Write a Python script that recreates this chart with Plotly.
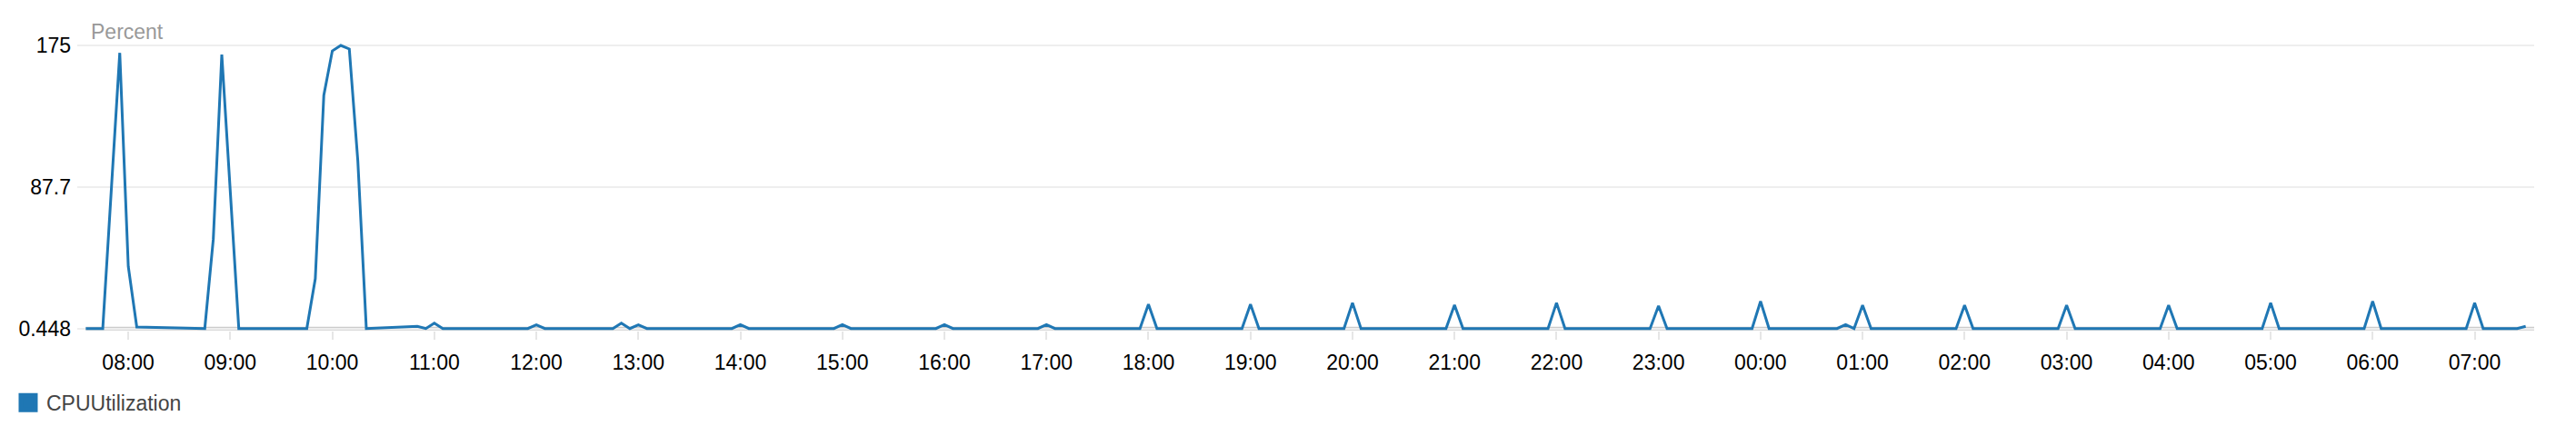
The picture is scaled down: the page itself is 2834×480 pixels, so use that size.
import plotly.graph_objects as go

# CPUUtilization, 5 minute samples (only the points where the line bends)
times = [
    "2018-05-21 07:35", "2018-05-21 07:45", "2018-05-21 07:55", "2018-05-21 08:00", "2018-05-21 08:05",
    "2018-05-21 08:45", "2018-05-21 08:50", "2018-05-21 08:55", "2018-05-21 09:05",
    "2018-05-21 09:45", "2018-05-21 09:50", "2018-05-21 09:55", "2018-05-21 10:00", "2018-05-21 10:05",
    "2018-05-21 10:10", "2018-05-21 10:15", "2018-05-21 10:20",
    "2018-05-21 10:50", "2018-05-21 10:55", "2018-05-21 11:00", "2018-05-21 11:05",
    "2018-05-21 11:55", "2018-05-21 12:00", "2018-05-21 12:05",
    "2018-05-21 12:45", "2018-05-21 12:50", "2018-05-21 12:55", "2018-05-21 13:00", "2018-05-21 13:05",
    "2018-05-21 13:55", "2018-05-21 14:00", "2018-05-21 14:05",
    "2018-05-21 14:55", "2018-05-21 15:00", "2018-05-21 15:05",
    "2018-05-21 15:55", "2018-05-21 16:00", "2018-05-21 16:05",
    "2018-05-21 16:55", "2018-05-21 17:00", "2018-05-21 17:05",
    "2018-05-21 17:55", "2018-05-21 18:00", "2018-05-21 18:05",
    "2018-05-21 18:55", "2018-05-21 19:00", "2018-05-21 19:05",
    "2018-05-21 19:55", "2018-05-21 20:00", "2018-05-21 20:05",
    "2018-05-21 20:55", "2018-05-21 21:00", "2018-05-21 21:05",
    "2018-05-21 21:55", "2018-05-21 22:00", "2018-05-21 22:05",
    "2018-05-21 22:55", "2018-05-21 23:00", "2018-05-21 23:05",
    "2018-05-21 23:55", "2018-05-22 00:00", "2018-05-22 00:05",
    "2018-05-22 00:45", "2018-05-22 00:50", "2018-05-22 00:55", "2018-05-22 01:00", "2018-05-22 01:05",
    "2018-05-22 01:55", "2018-05-22 02:00", "2018-05-22 02:05",
    "2018-05-22 02:55", "2018-05-22 03:00", "2018-05-22 03:05",
    "2018-05-22 03:55", "2018-05-22 04:00", "2018-05-22 04:05",
    "2018-05-22 04:55", "2018-05-22 05:00", "2018-05-22 05:05",
    "2018-05-22 05:55", "2018-05-22 06:00", "2018-05-22 06:05",
    "2018-05-22 06:55", "2018-05-22 07:00", "2018-05-22 07:05",
    "2018-05-22 07:25", "2018-05-22 07:30",
]
cpu = [
    0.448, 0.448, 170.4, 38.8, 1.4,
    0.448, 55.5, 169.4, 0.448,
    0.448, 31.2, 144.2, 171.6, 175.0,
    172.8, 104.0, 0.448,
    1.8, 0.448, 3.8, 0.448,
    0.448, 2.7, 0.448,
    0.448, 3.8, 0.448, 2.7, 0.448,
    0.448, 2.9, 0.448,
    0.448, 2.9, 0.448,
    0.448, 2.9, 0.448,
    0.448, 2.9, 0.448,
    0.448, 15.4, 0.448,
    0.448, 15.4, 0.448,
    0.448, 16.3, 0.448,
    0.448, 15.0, 0.448,
    0.448, 16.3, 0.448,
    0.448, 14.4, 0.448,
    0.448, 17.2, 0.448,
    0.448, 2.9, 0.448, 14.8, 0.448,
    0.448, 14.8, 0.448,
    0.448, 14.8, 0.448,
    0.448, 14.8, 0.448,
    0.448, 16.3, 0.448,
    0.448, 17.2, 0.448,
    0.448, 16.3, 0.448,
    0.448, 1.8,
]

y_ticks = [0.448, 87.7, 175]
y_labels = ["0.448", "87.7", "175"]
x_start = "2018-05-21 07:30"
x_end = "2018-05-22 07:35"

blue = "#1f77b4"
font = "Liberation Sans, Arial, Helvetica, sans-serif"

fig = go.Figure()
fig.add_trace(go.Scatter(
    x=times, y=cpu, mode="lines", name="CPUUtilization",
    line=dict(color=blue, width=3), showlegend=False
))
# legend swatch only
fig.add_trace(go.Scatter(
    x=[None], y=[None], mode="markers", name="CPUUtilization",
    marker=dict(symbol="square", size=16, color=blue, line=dict(color=blue, width=5))
))

# darker baseline at the axis minimum
fig.add_shape(type="line", xref="x", yref="y", x0=times[0], x1=x_end,
              y0=y_ticks[0], y1=y_ticks[0], line=dict(color="#cccccc", width=4), layer="below")

fig.add_annotation(text="Percent", xref="paper", yref="paper", x=0, y=1,
                   xanchor="left", yanchor="middle", xshift=13, yshift=12, showarrow=False,
                   font=dict(family=font, size=23, color="#999999"))

fig.update_layout(
    width=2834, height=480,
    margin=dict(l=84, r=46, t=47, b=116),
    paper_bgcolor="white", plot_bgcolor="white",
    font=dict(family=font, size=23, color="#000000"),
    showlegend=True,
    legend=dict(x=-0.027, y=-0.25, xanchor="left", yanchor="middle",
                font=dict(size=23, color="#444444"), bgcolor="rgba(0,0,0,0)"),
)
fig.update_xaxes(
    type="date", range=[x_start, x_end],
    tick0="2018-05-21 08:00", dtick=3600000, tickformat="%H:%M",
    showgrid=False, zeroline=False, showline=False,
    ticks="outside", ticklen=9, tickwidth=2, tickcolor="#e6e6e6", ticklabelstandoff=5,
)
fig.update_yaxes(
    range=[-0.84, 176.68], tickvals=y_ticks, ticktext=y_labels,
    showgrid=True, gridcolor="#eeeeee", gridwidth=2,
    zeroline=False, showline=False, ticks="", ticklabelstandoff=6,
)

# page default body margin would push the figure off the window
fig.write_html("out.html", config={"displayModeBar": False},
               post_script="document.body.style.margin='0';document.body.style.overflow='hidden';")
